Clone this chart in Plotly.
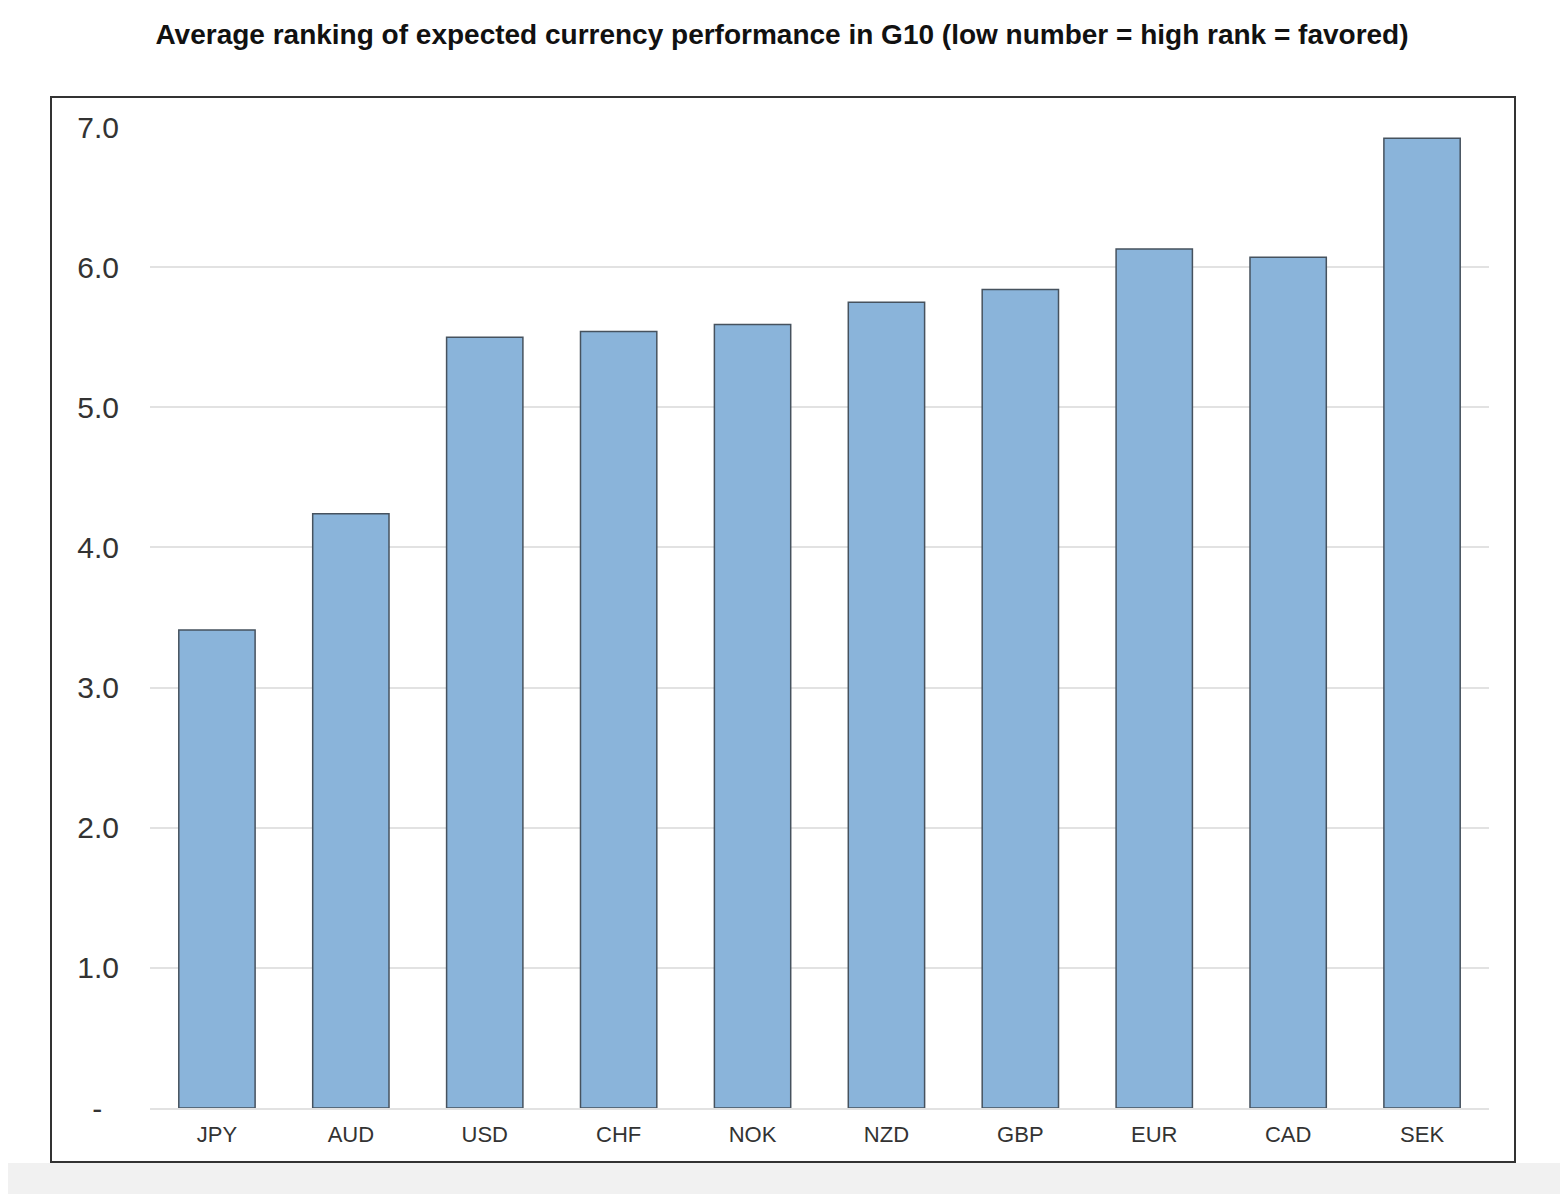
import plotly.graph_objects as go

# the page puts the figure 8px in from the top-left corner
OFF = 8
W, H = 1568 - 2 * OFF, 1202 - 2 * OFF
L, T = 150 - OFF, 127 - OFF
R, B = W - (1489 - OFF), H - (1108 - OFF)

currencies = ["JPY", "AUD", "USD", "CHF", "NOK", "NZD", "GBP", "EUR", "CAD", "SEK"]
avg_rank = [3.41, 4.24, 5.50, 5.54, 5.59, 5.75, 5.84, 6.13, 6.07, 6.92]
tick_vals = [0, 1, 2, 3, 4, 5, 6, 7]
tick_text = ["-\u00a0\u00a0", "1.0", "2.0", "3.0", "4.0", "5.0", "6.0", "7.0"]

pw, ph = W - L - R, H - T - B


def px_x(x):
    return (x - OFF - L) / pw


def px_y(y):
    return (H - B - (y - OFF)) / ph


fig = go.Figure()

fig.add_trace(go.Bar(
    x=currencies,
    y=avg_rank,
    width=0.57,
    marker=dict(color="#8ab4da", line=dict(color="#46525e", width=1.5)),
))

# grey strip at the bottom of the page, and the black frame round the chart
fig.add_shape(type="rect", xref="paper", yref="paper",
              x0=px_x(-20), x1=px_x(1600), y0=px_y(1230), y1=px_y(1163),
              fillcolor="#f1f1f1", line=dict(width=0), layer="below")
fig.add_shape(type="rect", xref="paper", yref="paper",
              x0=px_x(51), x1=px_x(1515), y0=px_y(1162), y1=px_y(97),
              fillcolor="rgba(0,0,0,0)", line=dict(color="#333333", width=2))

fig.update_layout(
    width=W, height=H,
    margin=dict(l=L, r=R, t=T, b=B),
    paper_bgcolor="white",
    plot_bgcolor="white",
    font=dict(family="Liberation Sans, Arial, sans-serif", color="#222222"),
    title=dict(
        text="<b>Average ranking of expected currency performance in G10 (low number = high rank = favored)</b>",
        x=(782 - OFF) / W, xref="container", xanchor="center",
        y=1 - (34 - OFF) / H, yref="container", yanchor="middle",
        font=dict(size=28, color="#111111"),
    ),
    showlegend=False,
    bargap=0.43,
)

fig.update_yaxes(
    range=[0, 7],
    tickvals=tick_vals,
    ticktext=tick_text,
    tickfont=dict(size=30, color="#333333"),
    showgrid=True, gridcolor="#e2e2e2", gridwidth=2,
    zeroline=False,
    showline=False,
    ticks="",
    ticklabelstandoff=30,
)

fig.update_xaxes(
    tickfont=dict(size=22, color="#333333"),
    showline=True, linecolor="#e2e2e2", linewidth=2,
    ticks="",
    ticklabelstandoff=6,
)

fig.write_html("out.html")
